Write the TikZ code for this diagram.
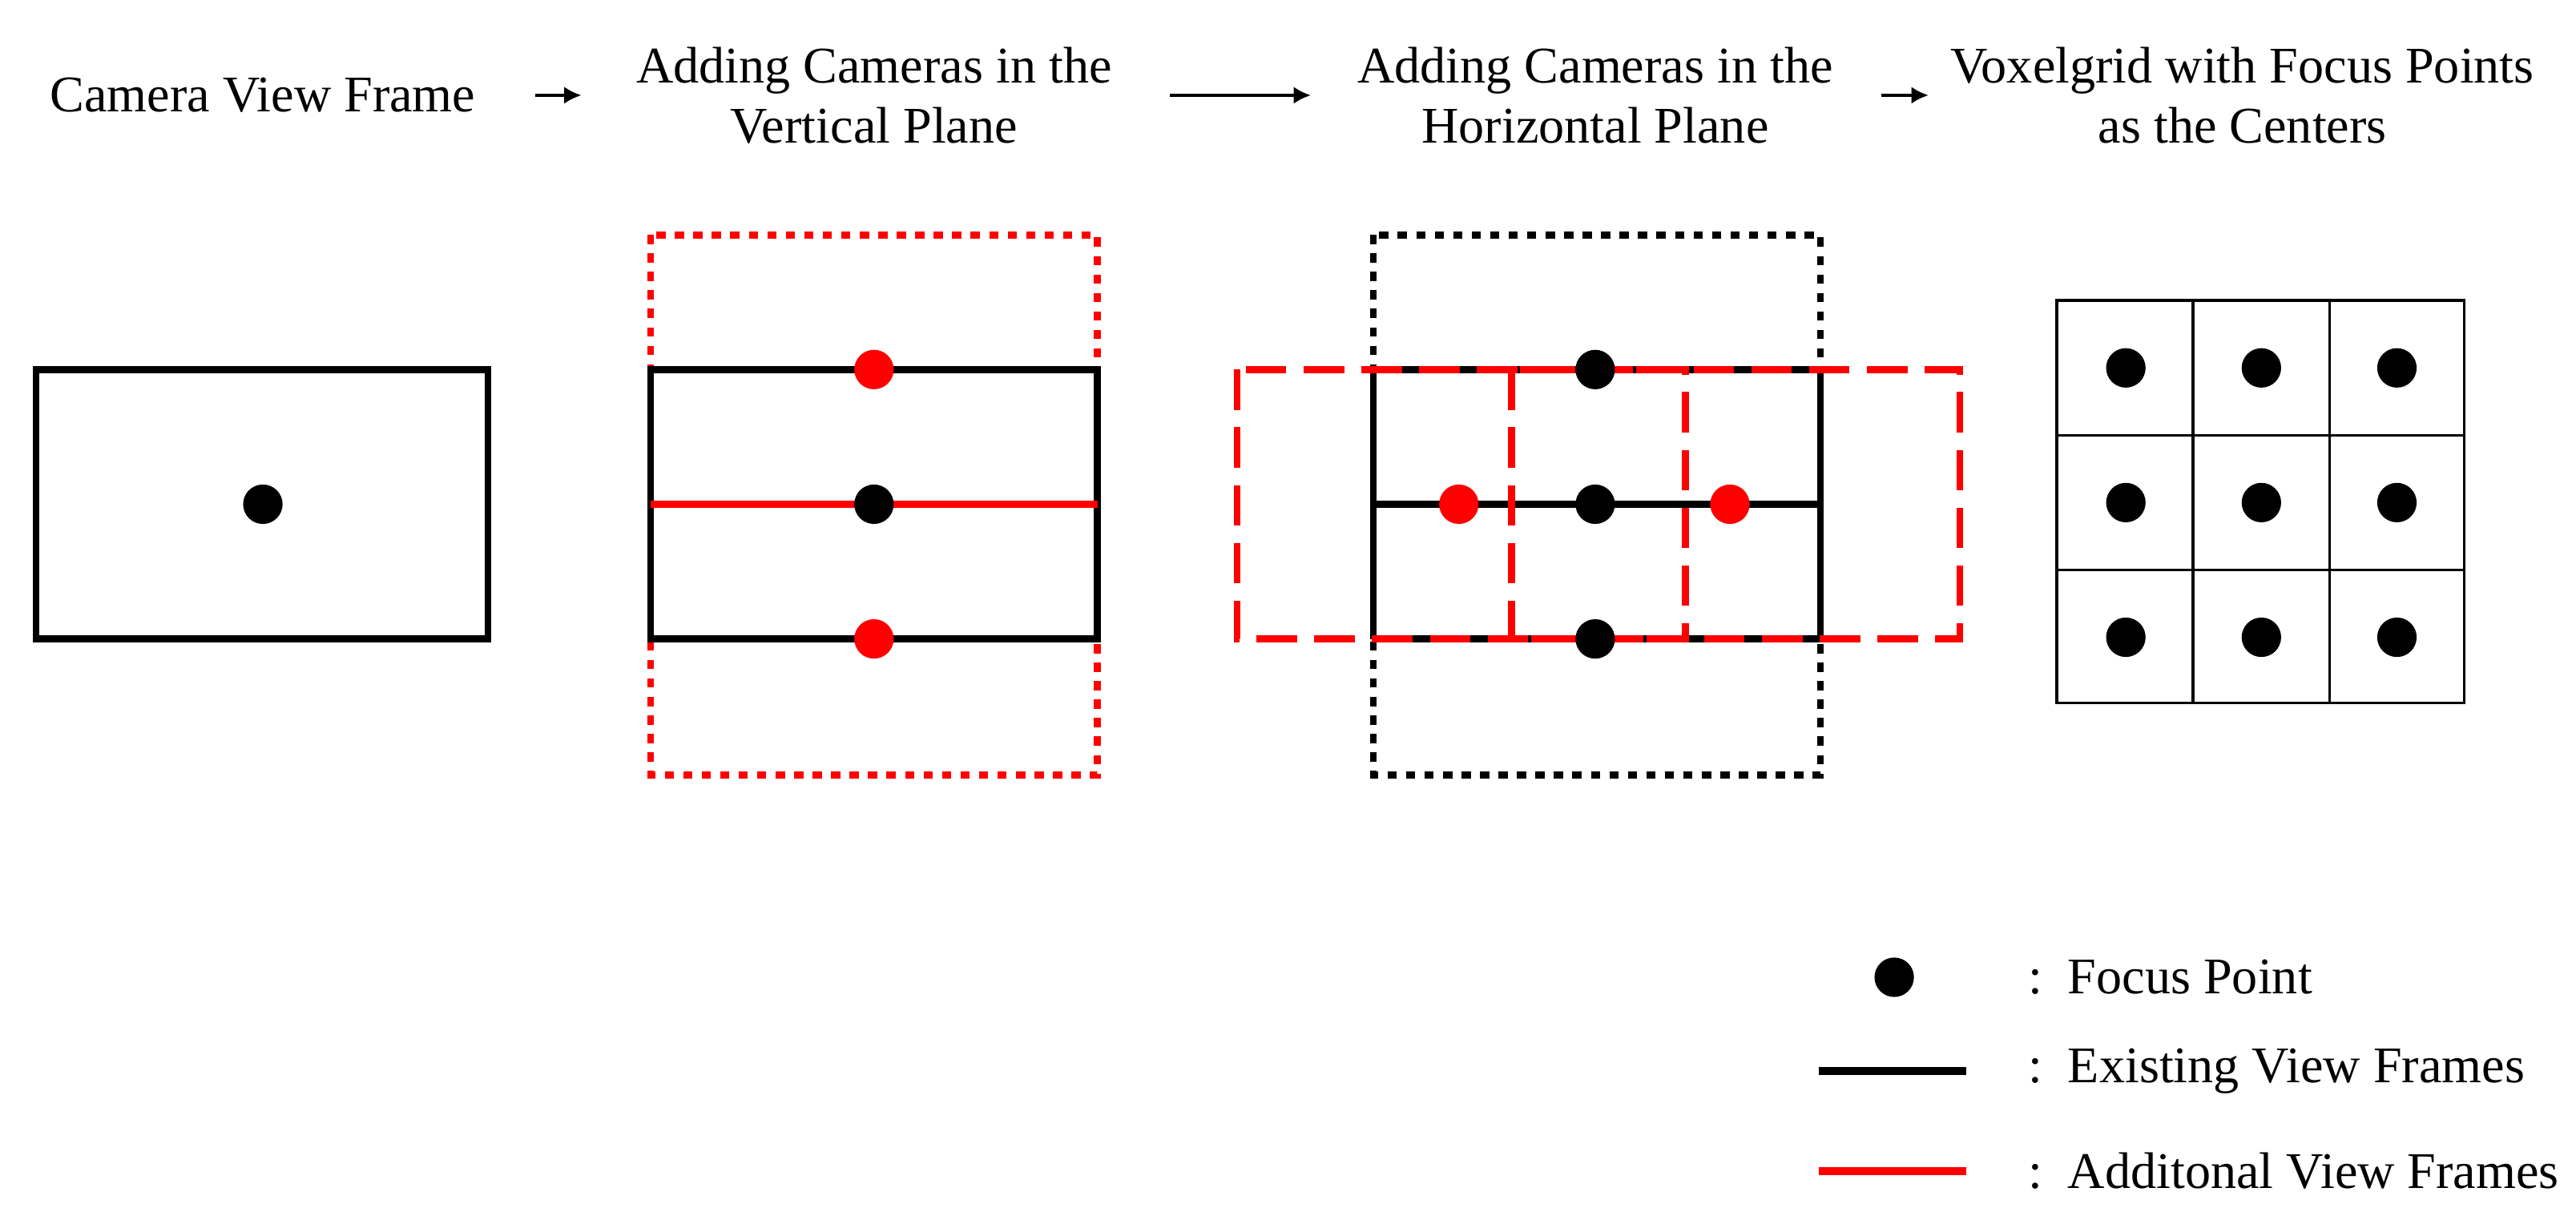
\documentclass[tikz,border=0pt]{standalone}
\usepackage{fontspec}
\setmainfont{Liberation Serif}
\usetikzlibrary{arrows.meta}
\begin{document}
\begin{tikzpicture}[x=0.01cm,y=-0.01cm,
  frame/.style={line width=1.2pt},
  dotted red/.style={red, line width=1.2pt, dash pattern=on 1.6pt off 1.6pt},
  dotted blk/.style={black, line width=1.2pt, dash pattern=on 1.6pt off 1.6pt},
  dashed red/.style={red, line width=1.2pt, dash pattern=on 7pt off 3pt},
  fp/.style={circle, fill=black, inner sep=0pt, minimum size=0.24cm},
  fpr/.style={circle, fill=red, inner sep=0pt, minimum size=0.24cm},
  ttl/.style={font=\fontsize{8.9}{10.4}\selectfont, align=center},
  thin grid/.style={line width=0.5pt},
  arr/.style={-{Latex[length=3pt,width=3pt]}, line width=0.6pt}]
\useasboundingbox (0,0) rectangle (1568,740);
% titles
\node[ttl] (t1) at (160,58) {Camera View Frame};
\node[ttl] (t2) at (532,58) {Adding Cameras in the\\Vertical Plane};
\node[ttl] (t3) at (971,58) {Adding Cameras in the\\Horizontal Plane};
\node[ttl] (t4) at (1365,58) {Voxelgrid with Focus Points\\as the Centers};
\coordinate (a1s) at (326,58); \coordinate (a1e) at (354,58);
\coordinate (a2s) at (712,58); \coordinate (a2e) at (798,58);
\coordinate (a3s) at (1145,58); \coordinate (a3e) at (1174,58);
\draw[arr] (a1s) -- (a1e);
\draw[arr] (a2s) -- (a2e);
\draw[arr] (a3s) -- (a3e);
% panel 1
\draw[frame] (22,225) rectangle (297,389);
\node[fp] (p1) at (160,307) {};
% panel 2
\draw[dotted red] (396,143) rectangle (668,472);
\draw[frame] (396,225) rectangle (668,389);
\draw[red, line width=1.2pt] (396,307) -- (668,307);
\node[fpr] (p2a) at (532,225) {};
\node[fp] (p2b) at (532,307) {};
\node[fpr] (p2c) at (532,389) {};
% panel 3
\draw[dotted blk] (836,143) rectangle (1108,472);
\draw[frame] (836,225) -- (1108,225);
\draw[frame] (836,389) -- (1108,389);
\draw[frame] (836,225) -- (836,389);
\draw[frame] (1108,225) -- (1108,389);
\draw[frame] (836,307) -- (1108,307);
\draw[dashed red] (753,225) rectangle (1026,389);
\draw[dashed red] (920,225) rectangle (1193,389);
\node[fp] (p3a) at (971,225) {};
\node[fp] (p3b) at (971,307) {};
\node[fp] (p3c) at (971,389) {};
\node[fpr] (p3l) at (888,307) {};
\node[fpr] (p3r) at (1053,307) {};
% panel 4
\draw[thin grid] (1252,183) rectangle (1500,428);
\draw[thin grid] (1335,183) -- (1335,428);
\draw[thin grid] (1418,183) -- (1418,428);
\draw[thin grid] (1252,265) -- (1500,265);
\draw[thin grid] (1252,347) -- (1500,347);
\foreach \i in {0,1,2} \foreach \j in {0,1,2}
  \node[fp] (g\i\j) at ({1294+82.5*\i},{224+82*\j}) {};
% legend
\node[fp] (lg1) at (1153,595) {};
\coordinate (l2s) at (1107,652); \coordinate (l2e) at (1197,652);
\coordinate (l3s) at (1107,713); \coordinate (l3e) at (1197,713);
\draw[line width=1.3pt] (l2s) -- (l2e);
\draw[red, line width=1.3pt] (l3s) -- (l3e);
\node[ttl, anchor=west] (lt1) at (1222,595) {:\, Focus Point};
\node[ttl, anchor=west] (lt2) at (1222,652) {:\, Existing View Frames};
\node[ttl, anchor=west] (lt3) at (1222,713) {:\, Additonal View Frames};
\end{tikzpicture}
\end{document}
